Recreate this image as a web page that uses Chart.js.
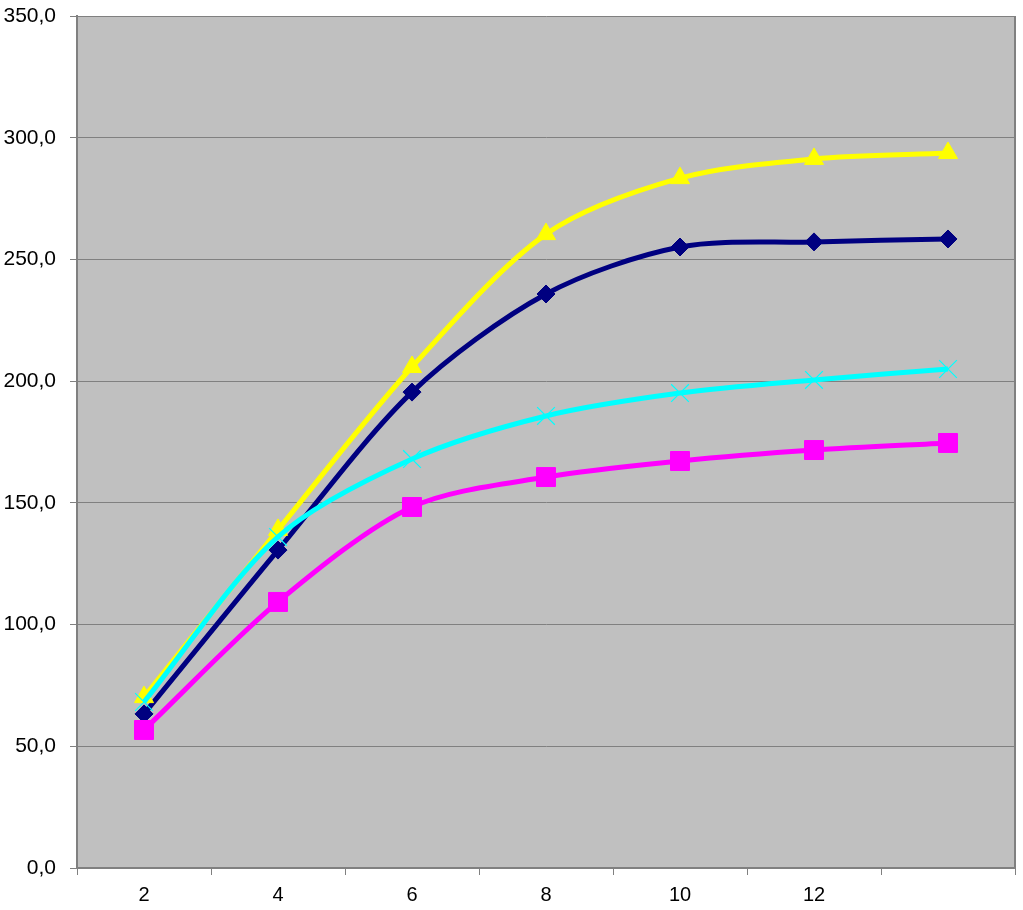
<!DOCTYPE html>
<html>
<head>
<meta charset="utf-8">
<script src="https://cdn.jsdelivr.net/npm/chart.js@4/dist/chart.umd.min.js"></script>
<style>
html,body{margin:0;padding:0;background:#fff;overflow:hidden;}
canvas{display:block;}
</style>
</head>
<body>
<canvas id="c" width="1023" height="910" style="width:1023px;height:910px"></canvas>
<script>
const categories = ['2', '4', '6', '8', '10', '12', ''];
const seriesNavy = [63.3, 130.6, 195.5, 235.8, 255.1, 257.2, 258.4];
const seriesMagenta = [56.7, 109.3, 148.3, 160.6, 167.2, 171.7, 174.6];
const seriesYellow = [70.2, 138.9, 205.8, 260.4, 283.4, 291.3, 293.7];
const seriesCyan = [68.2, 136.0, 168.0, 185.7, 195.1, 200.5, 205.0];
const yMin = 0, yMax = 350, yStep = 50;

const plotBg = {
  id: 'plotBg',
  beforeDraw(chart) {
    const a = chart.chartArea, ctx = chart.ctx;
    ctx.save();
    ctx.fillStyle = '#c0c0c0';
    ctx.fillRect(a.left, a.top, a.right - a.left, a.bottom - a.top);
    ctx.restore();
  },
  beforeDatasetsDraw(chart) {
    const a = chart.chartArea, ctx = chart.ctx;
    ctx.save();
    ctx.strokeStyle = '#808080';
    ctx.lineWidth = 2;
    ctx.beginPath();
    ctx.moveTo(a.right, a.top);
    ctx.lineTo(a.right, a.bottom);
    ctx.stroke();
    ctx.restore();
  }
};

function ds(label, data, color, style, radius, bw) {
  return {
    label, data,
    borderColor: color, backgroundColor: color,
    borderWidth: 5,
    tension: 0.3,
    pointStyle: style,
    pointRadius: radius,
    pointBorderWidth: bw,
    pointBorderColor: color,
    pointBackgroundColor: color,
    fill: false
  };
}

function zeroPad(axis) {
  axis.paddingTop = 0; axis.paddingBottom = 0;
  axis.paddingLeft = 0; axis.paddingRight = 0;
}

new Chart(document.getElementById('c'), {
  type: 'line',
  data: {
    labels: categories,
    datasets: [
      ds('Cyan', seriesCyan, '#00ffff', 'crossRot', 12.5, 1.2),
      ds('Yellow', seriesYellow, '#ffff00', 'triangle', 11, 1),
      ds('Magenta', seriesMagenta, '#ff00ff', 'rect', 13.4, 1),
      ds('Navy', seriesNavy, '#000080', 'rectRot', 9, 1)
    ]
  },
  plugins: [plotBg],
  options: {
    responsive: false,
    animation: false,
    layout: { autoPadding: false, padding: { top: 16, right: 8, left: 0, bottom: 0 } },
    plugins: { legend: { display: false }, tooltip: { enabled: false } },
    scales: {
      x: {
        offset: true,
        grid: { offset: true, drawOnChartArea: false, drawTicks: true, tickLength: 7, color: '#808080', lineWidth: 1 },
        border: { display: true, color: '#808080', width: 2 },
        ticks: { color: '#000', font: { family: 'Liberation Sans, Arial, sans-serif', size: 20 }, padding: 8, maxRotation: 0, autoSkip: false },
        afterFit(axis) { axis.height = 42; zeroPad(axis); }
      },
      y: {
        min: yMin, max: yMax,
        grid: { color: '#808080', lineWidth: 1, drawTicks: true, tickLength: 7 },
        border: { display: true, color: '#808080', width: 2 },
        ticks: {
          stepSize: yStep, color: '#000', padding: 14,
          font: { family: 'Liberation Sans, Arial, sans-serif', size: 21 },
          callback: v => v.toFixed(1).replace('.', ',')
        },
        afterFit(axis) { axis.width = 77; zeroPad(axis); }
      }
    }
  }
});
</script>
</body>
</html>
